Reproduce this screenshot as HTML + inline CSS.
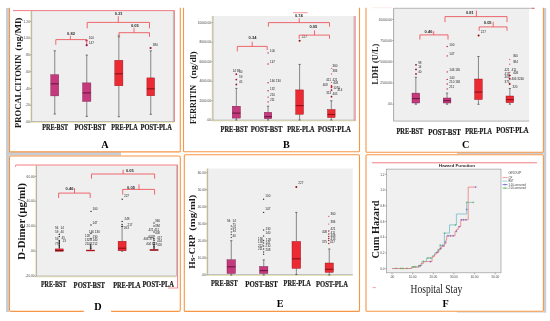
<!DOCTYPE html>
<html><head><meta charset="utf-8"><style>
html,body{margin:0;padding:0;background:#fff;}
body{width:550px;height:321px;overflow:hidden;font-family:"Liberation Sans",sans-serif;}
svg{display:block;will-change:transform;}
</style></head><body>
<svg width="550" height="321" viewBox="0 0 550 321">
<rect x="6.00" y="8.00" width="3.20" height="304.00" fill="#c9ced6" stroke="none" stroke-width="0" rx="0" />
<rect x="6.00" y="151.80" width="115.00" height="3.80" fill="#c9ced6" stroke="none" stroke-width="0" rx="0" />
<rect x="543.90" y="8.00" width="2.30" height="304.40" fill="#c9ced6" stroke="none" stroke-width="0" rx="0" />
<rect x="457.00" y="152.30" width="89.20" height="1.80" fill="#c9ced6" stroke="none" stroke-width="0" rx="0" />
<rect x="457.00" y="311.70" width="89.20" height="0.80" fill="#c9ced6" stroke="none" stroke-width="0" rx="0" />
<path d="M9.50,7.80 L9.50,150.90 Q9.50,151.90 10.50,151.90 L179.30,151.90 Q180.30,151.90 180.30,150.90 L180.30,7.80" stroke="#f79646" stroke-width="1.1" fill="none" />
<rect x="31.30" y="10.60" width="142.90" height="111.20" fill="#efefef" stroke="none" stroke-width="0" rx="0" />
<line x1="13.00" y1="10.60" x2="174.60" y2="10.60" stroke="#f07c80" stroke-width="1.0" />
<line x1="173.40" y1="11.00" x2="173.40" y2="121.80" stroke="#8a9090" stroke-width="0.5" />
<line x1="174.40" y1="10.60" x2="174.40" y2="122.00" stroke="#f07c80" stroke-width="1.0" />
<line x1="30.85" y1="10.80" x2="30.85" y2="122.70" stroke="#e6dc98" stroke-width="0.8" />
<line x1="31.65" y1="10.80" x2="31.65" y2="121.80" stroke="#8a8a8a" stroke-width="0.6" />
<line x1="31.30" y1="122.30" x2="174.20" y2="122.30" stroke="#e6dc98" stroke-width="0.8" />
<line x1="31.65" y1="121.50" x2="174.20" y2="121.50" stroke="#9a9a9a" stroke-width="0.6" />
<line x1="29.90" y1="21.40" x2="31.30" y2="21.40" stroke="#666" stroke-width="0.5" />
<text x="29.70" y="22.50" font-family="Liberation Sans" font-size="3.2" font-weight="normal" text-anchor="end" fill="#444" >1.20</text>
<line x1="29.90" y1="38.20" x2="31.30" y2="38.20" stroke="#666" stroke-width="0.5" />
<text x="29.70" y="39.30" font-family="Liberation Sans" font-size="3.2" font-weight="normal" text-anchor="end" fill="#444" >1.00</text>
<line x1="29.90" y1="54.90" x2="31.30" y2="54.90" stroke="#666" stroke-width="0.5" />
<text x="29.70" y="56.00" font-family="Liberation Sans" font-size="3.2" font-weight="normal" text-anchor="end" fill="#444" >.80</text>
<line x1="29.90" y1="71.70" x2="31.30" y2="71.70" stroke="#666" stroke-width="0.5" />
<text x="29.70" y="72.80" font-family="Liberation Sans" font-size="3.2" font-weight="normal" text-anchor="end" fill="#444" >.60</text>
<line x1="29.90" y1="88.50" x2="31.30" y2="88.50" stroke="#666" stroke-width="0.5" />
<text x="29.70" y="89.60" font-family="Liberation Sans" font-size="3.2" font-weight="normal" text-anchor="end" fill="#444" >.40</text>
<line x1="29.90" y1="105.20" x2="31.30" y2="105.20" stroke="#666" stroke-width="0.5" />
<text x="29.70" y="106.30" font-family="Liberation Sans" font-size="3.2" font-weight="normal" text-anchor="end" fill="#444" >.20</text>
<line x1="29.90" y1="122.00" x2="31.30" y2="122.00" stroke="#666" stroke-width="0.5" />
<text x="29.70" y="123.10" font-family="Liberation Sans" font-size="3.2" font-weight="normal" text-anchor="end" fill="#444" >.00</text>
<line x1="54.75" y1="50.80" x2="54.75" y2="74.70" stroke="#7a7a7a" stroke-width="0.9" />
<line x1="54.75" y1="95.90" x2="54.75" y2="114.00" stroke="#7a7a7a" stroke-width="0.9" />
<line x1="53.65" y1="50.80" x2="55.85" y2="50.80" stroke="#555" stroke-width="0.8" />
<line x1="53.65" y1="114.00" x2="55.85" y2="114.00" stroke="#555" stroke-width="0.8" />
<rect x="50.80" y="74.70" width="7.90" height="21.20" fill="#c53a7d" stroke="#6e1540" stroke-width="0.4" rx="0" />
<line x1="50.80" y1="83.80" x2="58.70" y2="83.80" stroke="#6e1540" stroke-width="1.1" />
<line x1="86.75" y1="55.10" x2="86.75" y2="82.90" stroke="#7a7a7a" stroke-width="0.9" />
<line x1="86.75" y1="101.40" x2="86.75" y2="116.40" stroke="#7a7a7a" stroke-width="0.9" />
<line x1="85.65" y1="55.10" x2="87.85" y2="55.10" stroke="#555" stroke-width="0.8" />
<line x1="85.65" y1="116.40" x2="87.85" y2="116.40" stroke="#555" stroke-width="0.8" />
<rect x="82.60" y="82.90" width="8.30" height="18.50" fill="#c53a7d" stroke="#6e1540" stroke-width="0.4" rx="0" />
<line x1="82.60" y1="92.90" x2="90.90" y2="92.90" stroke="#6e1540" stroke-width="1.1" />
<line x1="118.85" y1="36.80" x2="118.85" y2="60.30" stroke="#7a7a7a" stroke-width="0.9" />
<line x1="118.85" y1="85.80" x2="118.85" y2="116.70" stroke="#7a7a7a" stroke-width="0.9" />
<line x1="117.75" y1="36.80" x2="119.95" y2="36.80" stroke="#555" stroke-width="0.8" />
<line x1="117.75" y1="116.70" x2="119.95" y2="116.70" stroke="#555" stroke-width="0.8" />
<rect x="114.80" y="60.30" width="8.10" height="25.50" fill="#ec2a34" stroke="#8c1018" stroke-width="0.4" rx="0" />
<line x1="114.80" y1="73.80" x2="122.90" y2="73.80" stroke="#8c1018" stroke-width="1.1" />
<line x1="150.75" y1="50.80" x2="150.75" y2="77.90" stroke="#7a7a7a" stroke-width="0.9" />
<line x1="150.75" y1="95.80" x2="150.75" y2="114.30" stroke="#7a7a7a" stroke-width="0.9" />
<line x1="149.65" y1="50.80" x2="151.85" y2="50.80" stroke="#555" stroke-width="0.8" />
<line x1="149.65" y1="114.30" x2="151.85" y2="114.30" stroke="#555" stroke-width="0.8" />
<rect x="146.90" y="77.90" width="7.70" height="17.90" fill="#ec2a34" stroke="#8c1018" stroke-width="0.4" rx="0" />
<line x1="146.90" y1="88.80" x2="154.60" y2="88.80" stroke="#8c1018" stroke-width="1.1" />
<circle cx="86.50" cy="40.50" r="1.1" fill="#9a1050"/>
<text x="88.80" y="38.50" font-family="Liberation Sans" font-size="3.0" font-weight="normal" text-anchor="start" fill="#222" >100</text>
<circle cx="86.70" cy="45.20" r="1.1" fill="#9a1050"/>
<text x="88.80" y="43.50" font-family="Liberation Sans" font-size="3.0" font-weight="normal" text-anchor="start" fill="#222" >147</text>
<circle cx="150.60" cy="48.00" r="1.1" fill="#9a1020"/>
<text x="152.80" y="45.50" font-family="Liberation Sans" font-size="3.0" font-weight="normal" text-anchor="start" fill="#222" >380</text>
<circle cx="118.9" cy="35.6" r="0.9" fill="none" stroke="#555" stroke-width="0.4"/>
<path d="M55.80,44.80 L55.80,39.60 L86.70,39.60 L86.70,44.00" stroke="#f04f55" stroke-width="0.85" fill="none" />
<line x1="70.40" y1="39.60" x2="70.40" y2="35.80" stroke="#f04f55" stroke-width="0.85" />
<text x="71.00" y="34.60" font-family="Liberation Sans" font-size="4.0" font-weight="bold" text-anchor="middle" fill="#2a2a2a" >0.82</text>
<path d="M87.20,28.40 L87.20,22.40 L149.50,22.40 L149.50,28.40" stroke="#f04f55" stroke-width="0.85" fill="none" />
<line x1="118.30" y1="22.40" x2="118.30" y2="16.20" stroke="#f04f55" stroke-width="0.85" />
<text x="118.70" y="14.80" font-family="Liberation Sans" font-size="4.0" font-weight="bold" text-anchor="middle" fill="#2a2a2a" >0.21</text>
<path d="M119.00,36.60 L119.00,32.70 L149.50,32.70 L149.50,36.80" stroke="#f04f55" stroke-width="0.85" fill="none" />
<line x1="134.00" y1="32.70" x2="134.00" y2="27.80" stroke="#f04f55" stroke-width="0.85" />
<text x="134.80" y="26.60" font-family="Liberation Sans" font-size="4.0" font-weight="bold" text-anchor="middle" fill="#2a2a2a" >0.05</text>
<text x="21.50" y="127.90" font-family="Liberation Serif" font-size="7.5" font-weight="bold" text-anchor="start" fill="#1a1a1a" textLength="73.40" lengthAdjust="spacingAndGlyphs" transform="rotate(-90 21.50 127.90)" >PROCALCITONIN</text>
<text x="21.50" y="50.70" font-family="Liberation Serif" font-size="7.5" font-weight="bold" text-anchor="start" fill="#1a1a1a" textLength="33.20" lengthAdjust="spacingAndGlyphs" transform="rotate(-90 21.50 50.70)" >(ng/Ml)</text>
<text x="55.25" y="130.20" font-family="Liberation Serif" font-size="7.6" font-weight="bold" text-anchor="middle" fill="#1a1a1a" textLength="25.90" lengthAdjust="spacingAndGlyphs" stroke="#1a1a1a" stroke-width="0.22">PRE-BST</text>
<text x="90.15" y="130.20" font-family="Liberation Serif" font-size="7.6" font-weight="bold" text-anchor="middle" fill="#1a1a1a" textLength="31.30" lengthAdjust="spacingAndGlyphs" stroke="#1a1a1a" stroke-width="0.22">POST-BST</text>
<text x="124.50" y="130.20" font-family="Liberation Serif" font-size="7.6" font-weight="bold" text-anchor="middle" fill="#1a1a1a" textLength="26.40" lengthAdjust="spacingAndGlyphs" stroke="#1a1a1a" stroke-width="0.22">PRE-PLA</text>
<text x="156.15" y="130.20" font-family="Liberation Serif" font-size="7.6" font-weight="bold" text-anchor="middle" fill="#1a1a1a" textLength="31.30" lengthAdjust="spacingAndGlyphs" stroke="#1a1a1a" stroke-width="0.22">POST-PLA</text>
<text x="104.95" y="147.80" font-family="Liberation Serif" font-size="10.2" font-weight="bold" text-anchor="middle" fill="#000" >A</text>
<path d="M183.50,7.80 L183.50,150.80 Q183.50,151.80 184.50,151.80 L358.50,151.80 Q359.50,151.80 359.50,150.80 L359.50,7.80" stroke="#f79646" stroke-width="1.1" fill="none" />
<rect x="212.60" y="15.90" width="142.40" height="104.50" fill="#efefef" stroke="none" stroke-width="0" rx="0" />
<line x1="354.00" y1="16.00" x2="354.00" y2="120.40" stroke="#8a9090" stroke-width="0.5" />
<line x1="355.10" y1="16.00" x2="355.10" y2="121.00" stroke="#f07c80" stroke-width="1.1" />
<line x1="293.00" y1="12.70" x2="307.60" y2="12.70" stroke="#f07c80" stroke-width="0.8" />
<line x1="212.15" y1="16.00" x2="212.15" y2="121.30" stroke="#e6dc98" stroke-width="0.8" />
<line x1="212.95" y1="16.00" x2="212.95" y2="120.40" stroke="#8a8a8a" stroke-width="0.6" />
<line x1="212.60" y1="120.90" x2="355.00" y2="120.90" stroke="#e6dc98" stroke-width="0.8" />
<line x1="212.95" y1="120.10" x2="355.00" y2="120.10" stroke="#9a9a9a" stroke-width="0.6" />
<line x1="211.20" y1="22.70" x2="212.60" y2="22.70" stroke="#666" stroke-width="0.5" />
<text x="211.00" y="23.80" font-family="Liberation Sans" font-size="3.2" font-weight="normal" text-anchor="end" fill="#444" >10000.00</text>
<line x1="211.20" y1="42.20" x2="212.60" y2="42.20" stroke="#666" stroke-width="0.5" />
<text x="211.00" y="43.30" font-family="Liberation Sans" font-size="3.2" font-weight="normal" text-anchor="end" fill="#444" >8000.00</text>
<line x1="211.20" y1="61.70" x2="212.60" y2="61.70" stroke="#666" stroke-width="0.5" />
<text x="211.00" y="62.80" font-family="Liberation Sans" font-size="3.2" font-weight="normal" text-anchor="end" fill="#444" >6000.00</text>
<line x1="211.20" y1="81.20" x2="212.60" y2="81.20" stroke="#666" stroke-width="0.5" />
<text x="211.00" y="82.30" font-family="Liberation Sans" font-size="3.2" font-weight="normal" text-anchor="end" fill="#444" >4000.00</text>
<line x1="211.20" y1="100.70" x2="212.60" y2="100.70" stroke="#666" stroke-width="0.5" />
<text x="211.00" y="101.80" font-family="Liberation Sans" font-size="3.2" font-weight="normal" text-anchor="end" fill="#444" >2000.00</text>
<line x1="211.20" y1="120.20" x2="212.60" y2="120.20" stroke="#666" stroke-width="0.5" />
<text x="211.00" y="121.30" font-family="Liberation Sans" font-size="3.2" font-weight="normal" text-anchor="end" fill="#444" >.00</text>
<line x1="236.35" y1="88.40" x2="236.35" y2="106.20" stroke="#7a7a7a" stroke-width="0.9" />
<line x1="236.35" y1="118.10" x2="236.35" y2="120.00" stroke="#7a7a7a" stroke-width="0.9" />
<line x1="235.25" y1="88.40" x2="237.45" y2="88.40" stroke="#555" stroke-width="0.8" />
<line x1="235.25" y1="120.00" x2="237.45" y2="120.00" stroke="#555" stroke-width="0.8" />
<rect x="232.30" y="106.20" width="8.10" height="11.90" fill="#c53a7d" stroke="#6e1540" stroke-width="0.4" rx="0" />
<line x1="232.30" y1="113.10" x2="240.40" y2="113.10" stroke="#6e1540" stroke-width="1.1" />
<line x1="268.05" y1="106.20" x2="268.05" y2="112.30" stroke="#7a7a7a" stroke-width="0.9" />
<line x1="268.05" y1="118.70" x2="268.05" y2="120.00" stroke="#7a7a7a" stroke-width="0.9" />
<line x1="266.95" y1="106.20" x2="269.15" y2="106.20" stroke="#555" stroke-width="0.8" />
<line x1="266.95" y1="120.00" x2="269.15" y2="120.00" stroke="#555" stroke-width="0.8" />
<rect x="264.30" y="112.30" width="7.50" height="6.40" fill="#c53a7d" stroke="#6e1540" stroke-width="0.4" rx="0" />
<line x1="264.30" y1="116.70" x2="271.80" y2="116.70" stroke="#6e1540" stroke-width="1.1" />
<line x1="299.60" y1="64.40" x2="299.60" y2="89.90" stroke="#7a7a7a" stroke-width="0.9" />
<line x1="299.60" y1="114.30" x2="299.60" y2="120.00" stroke="#7a7a7a" stroke-width="0.9" />
<line x1="298.50" y1="64.40" x2="300.70" y2="64.40" stroke="#555" stroke-width="0.8" />
<line x1="298.50" y1="120.00" x2="300.70" y2="120.00" stroke="#555" stroke-width="0.8" />
<rect x="295.70" y="89.90" width="7.80" height="24.40" fill="#ec2a34" stroke="#8c1018" stroke-width="0.4" rx="0" />
<line x1="295.70" y1="105.60" x2="303.50" y2="105.60" stroke="#8c1018" stroke-width="1.1" />
<line x1="331.30" y1="100.80" x2="331.30" y2="109.50" stroke="#7a7a7a" stroke-width="0.9" />
<line x1="331.30" y1="117.60" x2="331.30" y2="120.00" stroke="#7a7a7a" stroke-width="0.9" />
<line x1="330.20" y1="100.80" x2="332.40" y2="100.80" stroke="#555" stroke-width="0.8" />
<line x1="330.20" y1="120.00" x2="332.40" y2="120.00" stroke="#555" stroke-width="0.8" />
<rect x="327.50" y="109.50" width="7.60" height="8.10" fill="#ec2a34" stroke="#8c1018" stroke-width="0.4" rx="0" />
<line x1="327.50" y1="114.50" x2="335.10" y2="114.50" stroke="#8c1018" stroke-width="1.1" />
<circle cx="236.30" cy="74.20" r="0.9" fill="#9a1050"/>
<text x="239.00" y="73.00" font-family="Liberation Sans" font-size="3.0" font-weight="normal" text-anchor="start" fill="#222" >40</text>
<circle cx="236.30" cy="79.60" r="0.9" fill="#9a1050"/>
<text x="239.00" y="78.40" font-family="Liberation Sans" font-size="3.0" font-weight="normal" text-anchor="start" fill="#222" >59</text>
<circle cx="236.30" cy="84.50" r="0.9" fill="#9a1050"/>
<text x="239.00" y="83.30" font-family="Liberation Sans" font-size="3.0" font-weight="normal" text-anchor="start" fill="#222" >45</text>
<text x="232.70" y="72.00" font-family="Liberation Sans" font-size="3.0" font-weight="normal" text-anchor="start" fill="#222" >14  98</text>
<circle cx="268.10" cy="52.90" r="0.7" fill="#b01860"/>
<text x="270.00" y="52.10" font-family="Liberation Sans" font-size="3.0" font-weight="normal" text-anchor="start" fill="#222" >100</text>
<circle cx="268.10" cy="64.00" r="0.7" fill="#b01860"/>
<text x="270.00" y="63.20" font-family="Liberation Sans" font-size="3.0" font-weight="normal" text-anchor="start" fill="#222" >147</text>
<circle cx="268.10" cy="82.70" r="0.7" fill="#b01860"/>
<text x="270.00" y="81.90" font-family="Liberation Sans" font-size="3.0" font-weight="normal" text-anchor="start" fill="#222" >146 130</text>
<circle cx="268.10" cy="90.80" r="0.7" fill="#b01860"/>
<text x="270.00" y="90.00" font-family="Liberation Sans" font-size="3.0" font-weight="normal" text-anchor="start" fill="#222" >132</text>
<circle cx="268.10" cy="97.10" r="0.7" fill="#b01860"/>
<text x="270.00" y="96.30" font-family="Liberation Sans" font-size="3.0" font-weight="normal" text-anchor="start" fill="#222" >210</text>
<circle cx="268.10" cy="101.90" r="0.7" fill="#b01860"/>
<text x="270.00" y="101.10" font-family="Liberation Sans" font-size="3.0" font-weight="normal" text-anchor="start" fill="#222" >211</text>
<circle cx="299.60" cy="40.70" r="1.0" fill="#8a0a10"/>
<text x="301.80" y="38.20" font-family="Liberation Sans" font-size="3.0" font-weight="normal" text-anchor="start" fill="#222" >227</text>
<circle cx="331.50" cy="68.40" r="0.7" fill="#f06070"/>
<circle cx="331.50" cy="74.00" r="0.7" fill="#f06070"/>
<circle cx="331.50" cy="82.40" r="0.7" fill="#f06070"/>
<circle cx="331.50" cy="86.00" r="0.9" fill="#c01828"/>
<circle cx="331.50" cy="87.30" r="0.9" fill="#c01828"/>
<circle cx="331.50" cy="90.10" r="0.9" fill="#a01020"/>
<circle cx="331.50" cy="96.70" r="0.9" fill="#a01020"/>
<text x="332.50" y="66.80" font-family="Liberation Sans" font-size="3.0" font-weight="normal" text-anchor="start" fill="#222" >360</text>
<text x="332.50" y="72.40" font-family="Liberation Sans" font-size="3.0" font-weight="normal" text-anchor="start" fill="#222" >384</text>
<text x="326.20" y="81.40" font-family="Liberation Sans" font-size="3.0" font-weight="normal" text-anchor="start" fill="#222" >411</text>
<text x="332.50" y="81.40" font-family="Liberation Sans" font-size="3.0" font-weight="normal" text-anchor="start" fill="#222" >421</text>
<text x="322.70" y="86.30" font-family="Liberation Sans" font-size="3.0" font-weight="normal" text-anchor="start" fill="#222" >408</text>
<text x="333.20" y="84.40" font-family="Liberation Sans" font-size="3.0" font-weight="normal" text-anchor="start" fill="#222" >408</text>
<text x="333.20" y="88.50" font-family="Liberation Sans" font-size="3.0" font-weight="normal" text-anchor="start" fill="#222" >1070</text>
<text x="337.40" y="91.20" font-family="Liberation Sans" font-size="3.0" font-weight="normal" text-anchor="start" fill="#222" >414</text>
<text x="326.20" y="93.70" font-family="Liberation Sans" font-size="3.0" font-weight="normal" text-anchor="start" fill="#222" >313</text>
<text x="332.50" y="94.70" font-family="Liberation Sans" font-size="3.0" font-weight="normal" text-anchor="start" fill="#222" >405</text>
<path d="M237.30,51.40 L237.30,46.40 L267.20,46.40 L267.20,50.00" stroke="#f04f55" stroke-width="0.85" fill="none" />
<line x1="252.20" y1="46.40" x2="252.20" y2="41.70" stroke="#f04f55" stroke-width="0.85" />
<text x="252.50" y="39.30" font-family="Liberation Sans" font-size="4.0" font-weight="bold" text-anchor="middle" fill="#2a2a2a" >0.34</text>
<path d="M268.40,26.70 L268.40,22.60 L329.50,22.60 L329.50,26.70" stroke="#f04f55" stroke-width="0.85" fill="none" />
<line x1="299.20" y1="22.60" x2="299.20" y2="18.30" stroke="#f04f55" stroke-width="0.85" />
<text x="298.90" y="17.10" font-family="Liberation Sans" font-size="4.0" font-weight="bold" text-anchor="middle" fill="#2a2a2a" >0.74</text>
<path d="M299.20,38.80 L299.20,35.10 L329.50,35.10 L329.50,38.80" stroke="#f04f55" stroke-width="0.85" fill="none" />
<line x1="314.50" y1="35.10" x2="314.50" y2="30.40" stroke="#f04f55" stroke-width="0.85" />
<text x="313.40" y="27.70" font-family="Liberation Sans" font-size="4.0" font-weight="bold" text-anchor="middle" fill="#2a2a2a" >0.05</text>
<text x="196.10" y="123.90" font-family="Liberation Serif" font-size="7.6" font-weight="bold" text-anchor="start" fill="#1a1a1a" textLength="38.90" lengthAdjust="spacingAndGlyphs" transform="rotate(-90 196.10 123.90)" >FERRITIN</text>
<text x="196.10" y="78.70" font-family="Liberation Serif" font-size="7.6" font-weight="bold" text-anchor="start" fill="#1a1a1a" textLength="27.40" lengthAdjust="spacingAndGlyphs" transform="rotate(-90 196.10 78.70)" >(ng/dl)</text>
<text x="234.15" y="132.00" font-family="Liberation Serif" font-size="7.6" font-weight="bold" text-anchor="middle" fill="#1a1a1a" textLength="27.30" lengthAdjust="spacingAndGlyphs" stroke="#1a1a1a" stroke-width="0.22">PRE-BST</text>
<text x="266.60" y="132.00" font-family="Liberation Serif" font-size="7.6" font-weight="bold" text-anchor="middle" fill="#1a1a1a" textLength="31.80" lengthAdjust="spacingAndGlyphs" stroke="#1a1a1a" stroke-width="0.22">POST-BST</text>
<text x="300.85" y="131.50" font-family="Liberation Serif" font-size="7.6" font-weight="bold" text-anchor="middle" fill="#1a1a1a" textLength="27.10" lengthAdjust="spacingAndGlyphs" stroke="#1a1a1a" stroke-width="0.22">PRE-PLA</text>
<text x="334.35" y="131.50" font-family="Liberation Serif" font-size="7.6" font-weight="bold" text-anchor="middle" fill="#1a1a1a" textLength="33.30" lengthAdjust="spacingAndGlyphs" stroke="#1a1a1a" stroke-width="0.22">POST-PLA</text>
<text x="286.50" y="148.20" font-family="Liberation Serif" font-size="10.2" font-weight="bold" text-anchor="middle" fill="#000" >B</text>
<path d="M366.00,7.80 L366.00,151.20 Q366.00,152.20 367.00,152.20 L542.40,152.20 Q543.40,152.20 543.40,151.20 L543.40,7.80" stroke="#f79646" stroke-width="1.1" fill="none" />
<rect x="393.50" y="8.40" width="135.60" height="112.70" fill="#efefef" stroke="none" stroke-width="0" rx="0" />
<line x1="393.50" y1="8.30" x2="534.30" y2="8.30" stroke="#999" stroke-width="0.7" />
<line x1="532.00" y1="8.30" x2="534.60" y2="8.30" stroke="#f06060" stroke-width="0.9" />
<line x1="372.00" y1="7.70" x2="392.00" y2="7.70" stroke="#fde0d8" stroke-width="0.6" />
<line x1="393.60" y1="8.40" x2="393.60" y2="121.10" stroke="#8a8a8a" stroke-width="0.7" />
<line x1="393.50" y1="121.10" x2="529.10" y2="121.10" stroke="#9a9a9a" stroke-width="0.7" />
<line x1="392.10" y1="19.40" x2="393.50" y2="19.40" stroke="#666" stroke-width="0.5" />
<text x="391.90" y="20.50" font-family="Liberation Sans" font-size="3.2" font-weight="normal" text-anchor="end" fill="#444" >10000.00</text>
<line x1="392.10" y1="40.60" x2="393.50" y2="40.60" stroke="#666" stroke-width="0.5" />
<text x="391.90" y="41.70" font-family="Liberation Sans" font-size="3.2" font-weight="normal" text-anchor="end" fill="#444" >7500.00</text>
<line x1="392.10" y1="61.80" x2="393.50" y2="61.80" stroke="#666" stroke-width="0.5" />
<text x="391.90" y="62.90" font-family="Liberation Sans" font-size="3.2" font-weight="normal" text-anchor="end" fill="#444" >5000.00</text>
<line x1="392.10" y1="83.00" x2="393.50" y2="83.00" stroke="#666" stroke-width="0.5" />
<text x="391.90" y="84.10" font-family="Liberation Sans" font-size="3.2" font-weight="normal" text-anchor="end" fill="#444" >2500.00</text>
<line x1="392.10" y1="104.20" x2="393.50" y2="104.20" stroke="#666" stroke-width="0.5" />
<text x="391.90" y="105.30" font-family="Liberation Sans" font-size="3.2" font-weight="normal" text-anchor="end" fill="#444" >.00</text>
<line x1="415.85" y1="77.30" x2="415.85" y2="93.10" stroke="#7a7a7a" stroke-width="0.9" />
<line x1="415.85" y1="103.00" x2="415.85" y2="104.20" stroke="#7a7a7a" stroke-width="0.9" />
<line x1="414.75" y1="77.30" x2="416.95" y2="77.30" stroke="#555" stroke-width="0.8" />
<line x1="414.75" y1="104.20" x2="416.95" y2="104.20" stroke="#555" stroke-width="0.8" />
<rect x="412.00" y="93.10" width="7.70" height="9.90" fill="#c53a7d" stroke="#6e1540" stroke-width="0.4" rx="0" />
<line x1="412.00" y1="98.60" x2="419.70" y2="98.60" stroke="#6e1540" stroke-width="1.1" />
<line x1="447.05" y1="93.10" x2="447.05" y2="98.00" stroke="#7a7a7a" stroke-width="0.9" />
<line x1="447.05" y1="103.00" x2="447.05" y2="104.20" stroke="#7a7a7a" stroke-width="0.9" />
<line x1="445.95" y1="93.10" x2="448.15" y2="93.10" stroke="#555" stroke-width="0.8" />
<line x1="445.95" y1="104.20" x2="448.15" y2="104.20" stroke="#555" stroke-width="0.8" />
<rect x="443.20" y="98.00" width="7.70" height="5.00" fill="#c53a7d" stroke="#6e1540" stroke-width="0.4" rx="0" />
<line x1="443.20" y1="100.60" x2="450.90" y2="100.60" stroke="#6e1540" stroke-width="1.1" />
<line x1="478.45" y1="56.50" x2="478.45" y2="79.00" stroke="#7a7a7a" stroke-width="0.9" />
<line x1="478.45" y1="99.60" x2="478.45" y2="104.30" stroke="#7a7a7a" stroke-width="0.9" />
<line x1="477.35" y1="56.50" x2="479.55" y2="56.50" stroke="#555" stroke-width="0.8" />
<line x1="477.35" y1="104.30" x2="479.55" y2="104.30" stroke="#555" stroke-width="0.8" />
<rect x="474.60" y="79.00" width="7.70" height="20.60" fill="#ec2a34" stroke="#8c1018" stroke-width="0.4" rx="0" />
<line x1="474.60" y1="92.10" x2="482.30" y2="92.10" stroke="#8c1018" stroke-width="1.1" />
<line x1="509.85" y1="88.50" x2="509.85" y2="96.00" stroke="#7a7a7a" stroke-width="0.9" />
<line x1="509.85" y1="102.70" x2="509.85" y2="104.20" stroke="#7a7a7a" stroke-width="0.9" />
<line x1="508.75" y1="88.50" x2="510.95" y2="88.50" stroke="#555" stroke-width="0.8" />
<line x1="508.75" y1="104.20" x2="510.95" y2="104.20" stroke="#555" stroke-width="0.8" />
<rect x="506.00" y="96.00" width="7.70" height="6.70" fill="#ec2a34" stroke="#8c1018" stroke-width="0.4" rx="0" />
<line x1="506.00" y1="99.60" x2="513.70" y2="99.60" stroke="#8c1018" stroke-width="1.1" />
<circle cx="416.00" cy="64.80" r="0.9" fill="#8a1040"/>
<text x="418.20" y="63.80" font-family="Liberation Sans" font-size="3.0" font-weight="normal" text-anchor="start" fill="#222" >98</text>
<circle cx="416.00" cy="69.40" r="0.9" fill="#8a1040"/>
<text x="418.20" y="68.40" font-family="Liberation Sans" font-size="3.0" font-weight="normal" text-anchor="start" fill="#222" >14</text>
<circle cx="416.00" cy="73.90" r="0.9" fill="#8a1040"/>
<text x="418.20" y="72.90" font-family="Liberation Sans" font-size="3.0" font-weight="normal" text-anchor="start" fill="#222" >40</text>
<circle cx="447.20" cy="46.50" r="0.7" fill="#b01860"/>
<text x="449.30" y="45.70" font-family="Liberation Sans" font-size="3.0" font-weight="normal" text-anchor="start" fill="#222" >100</text>
<circle cx="447.20" cy="55.90" r="0.7" fill="#b01860"/>
<text x="449.30" y="55.10" font-family="Liberation Sans" font-size="3.0" font-weight="normal" text-anchor="start" fill="#222" >147</text>
<circle cx="447.20" cy="71.90" r="0.7" fill="#b01860"/>
<text x="449.30" y="71.10" font-family="Liberation Sans" font-size="3.0" font-weight="normal" text-anchor="start" fill="#222" >146 130</text>
<circle cx="447.20" cy="79.40" r="0.7" fill="#b01860"/>
<text x="449.30" y="78.60" font-family="Liberation Sans" font-size="3.0" font-weight="normal" text-anchor="start" fill="#222" >140</text>
<circle cx="447.20" cy="84.00" r="0.7" fill="#b01860"/>
<text x="449.30" y="83.20" font-family="Liberation Sans" font-size="3.0" font-weight="normal" text-anchor="start" fill="#222" >210 136</text>
<circle cx="447.20" cy="88.90" r="0.7" fill="#b01860"/>
<text x="449.30" y="88.10" font-family="Liberation Sans" font-size="3.0" font-weight="normal" text-anchor="start" fill="#222" >211</text>
<circle cx="478.60" cy="35.50" r="1.0" fill="#8a0a10"/>
<text x="480.80" y="33.00" font-family="Liberation Sans" font-size="3.0" font-weight="normal" text-anchor="start" fill="#222" >227</text>
<circle cx="509.70" cy="59.50" r="0.7" fill="#f06070"/>
<circle cx="509.70" cy="64.30" r="0.7" fill="#f06070"/>
<circle cx="509.70" cy="72.40" r="0.7" fill="#f06070"/>
<circle cx="509.70" cy="75.60" r="1.0" fill="#a01020"/>
<circle cx="509.70" cy="78.70" r="1.0" fill="#a01020"/>
<circle cx="509.70" cy="84.00" r="1.0" fill="#a01020"/>
<text x="512.90" y="57.40" font-family="Liberation Sans" font-size="3.0" font-weight="normal" text-anchor="start" fill="#222" >360</text>
<text x="512.90" y="63.00" font-family="Liberation Sans" font-size="3.0" font-weight="normal" text-anchor="start" fill="#222" >384</text>
<text x="504.50" y="70.70" font-family="Liberation Sans" font-size="3.0" font-weight="normal" text-anchor="start" fill="#222" >421</text>
<text x="511.50" y="70.70" font-family="Liberation Sans" font-size="3.0" font-weight="normal" text-anchor="start" fill="#222" >411</text>
<text x="513.20" y="73.50" font-family="Liberation Sans" font-size="3.0" font-weight="normal" text-anchor="start" fill="#222" >408</text>
<text x="504.50" y="74.90" font-family="Liberation Sans" font-size="3.0" font-weight="normal" text-anchor="start" fill="#222" >413</text>
<text x="504.50" y="78.40" font-family="Liberation Sans" font-size="3.0" font-weight="normal" text-anchor="start" fill="#222" >405</text>
<text x="511.50" y="79.80" font-family="Liberation Sans" font-size="3.0" font-weight="normal" text-anchor="start" fill="#222" >406 3240</text>
<text x="504.50" y="82.60" font-family="Liberation Sans" font-size="3.0" font-weight="normal" text-anchor="start" fill="#222" >375</text>
<text x="512.50" y="88.20" font-family="Liberation Sans" font-size="3.0" font-weight="normal" text-anchor="start" fill="#222" >320</text>
<path d="M419.90,39.60 L419.90,34.90 L448.00,34.90 L448.00,39.60" stroke="#f04f55" stroke-width="0.85" fill="none" />
<line x1="433.70" y1="34.90" x2="433.70" y2="31.20" stroke="#f04f55" stroke-width="0.85" />
<text x="428.50" y="33.20" font-family="Liberation Sans" font-size="4.0" font-weight="bold" text-anchor="middle" fill="#2a2a2a" >0.46</text>
<path d="M445.00,22.20 L445.00,16.60 L507.00,16.60 L507.00,22.20" stroke="#f04f55" stroke-width="0.85" fill="none" />
<line x1="476.40" y1="16.60" x2="476.40" y2="10.60" stroke="#f04f55" stroke-width="0.85" />
<text x="469.90" y="14.40" font-family="Liberation Sans" font-size="4.0" font-weight="bold" text-anchor="middle" fill="#2a2a2a" >0.81</text>
<path d="M479.20,30.80 L479.20,26.90 L507.00,26.90 L507.00,30.80" stroke="#f04f55" stroke-width="0.85" fill="none" />
<line x1="493.20" y1="26.90" x2="493.20" y2="21.80" stroke="#f04f55" stroke-width="0.85" />
<text x="487.70" y="23.80" font-family="Liberation Sans" font-size="4.0" font-weight="bold" text-anchor="middle" fill="#2a2a2a" >0.05</text>
<text x="377.80" y="84.70" font-family="Liberation Serif" font-size="7.5" font-weight="bold" text-anchor="start" fill="#1a1a1a" textLength="19.00" lengthAdjust="spacingAndGlyphs" transform="rotate(-90 377.80 84.70)" >LDH</text>
<text x="377.80" y="62.90" font-family="Liberation Serif" font-size="7.5" font-weight="bold" text-anchor="start" fill="#1a1a1a" textLength="19.00" lengthAdjust="spacingAndGlyphs" transform="rotate(-90 377.80 62.90)" >(U/L)</text>
<text x="409.85" y="134.20" font-family="Liberation Serif" font-size="7.6" font-weight="bold" text-anchor="middle" fill="#1a1a1a" textLength="26.90" lengthAdjust="spacingAndGlyphs" stroke="#1a1a1a" stroke-width="0.22">PRE-BST</text>
<text x="444.55" y="134.80" font-family="Liberation Serif" font-size="7.6" font-weight="bold" text-anchor="middle" fill="#1a1a1a" textLength="32.70" lengthAdjust="spacingAndGlyphs" stroke="#1a1a1a" stroke-width="0.22">POST-BST</text>
<text x="478.60" y="133.50" font-family="Liberation Serif" font-size="7.6" font-weight="bold" text-anchor="middle" fill="#1a1a1a" textLength="26.80" lengthAdjust="spacingAndGlyphs" stroke="#1a1a1a" stroke-width="0.22">PRE-PLA</text>
<text x="512.40" y="132.60" font-family="Liberation Serif" font-size="7.6" font-weight="bold" text-anchor="middle" fill="#1a1a1a" textLength="32.40" lengthAdjust="spacingAndGlyphs" stroke="#1a1a1a" stroke-width="0.22">POST-PLA</text>
<text x="465.80" y="148.30" font-family="Liberation Serif" font-size="10.2" font-weight="bold" text-anchor="middle" fill="#000" >C</text>
<path d="M83.8,311.4 L11,311.4 Q9.5,311.4 9.5,309.9 L9.5,157.5 Q9.5,156 11,156 L178.8,156 Q180.3,156 180.3,157.5 L180.3,309.9 Q180.3,311.4 178.8,311.4 L111.1,311.4" stroke="#f79646" stroke-width="1.1" fill="none" />
<rect x="36.20" y="165.20" width="140.10" height="111.10" fill="#efefef" stroke="none" stroke-width="0" rx="0" />
<line x1="15.60" y1="165.00" x2="177.80" y2="165.00" stroke="#f07c80" stroke-width="1.0" />
<line x1="15.60" y1="165.00" x2="15.60" y2="167.00" stroke="#f07c80" stroke-width="0.8" />
<line x1="176.50" y1="165.40" x2="176.50" y2="276.30" stroke="#8a9090" stroke-width="0.5" />
<line x1="177.60" y1="165.00" x2="177.60" y2="288.00" stroke="#f07c80" stroke-width="1.0" />
<line x1="168.00" y1="288.00" x2="178.20" y2="288.00" stroke="#f07c80" stroke-width="0.8" />
<line x1="35.75" y1="165.40" x2="35.75" y2="277.20" stroke="#e6dc98" stroke-width="0.8" />
<line x1="36.55" y1="165.40" x2="36.55" y2="276.30" stroke="#8a8a8a" stroke-width="0.6" />
<line x1="36.20" y1="276.80" x2="176.30" y2="276.80" stroke="#e6dc98" stroke-width="0.8" />
<line x1="36.55" y1="276.00" x2="176.30" y2="276.00" stroke="#9a9a9a" stroke-width="0.6" />
<line x1="34.80" y1="176.40" x2="36.20" y2="176.40" stroke="#666" stroke-width="0.5" />
<text x="34.60" y="177.50" font-family="Liberation Sans" font-size="3.2" font-weight="normal" text-anchor="end" fill="#444" >60.00</text>
<line x1="34.80" y1="201.30" x2="36.20" y2="201.30" stroke="#666" stroke-width="0.5" />
<text x="34.60" y="202.40" font-family="Liberation Sans" font-size="3.2" font-weight="normal" text-anchor="end" fill="#444" >40.00</text>
<line x1="34.80" y1="226.20" x2="36.20" y2="226.20" stroke="#666" stroke-width="0.5" />
<text x="34.60" y="227.30" font-family="Liberation Sans" font-size="3.2" font-weight="normal" text-anchor="end" fill="#444" >20.00</text>
<line x1="34.80" y1="251.20" x2="36.20" y2="251.20" stroke="#666" stroke-width="0.5" />
<text x="34.60" y="252.30" font-family="Liberation Sans" font-size="3.2" font-weight="normal" text-anchor="end" fill="#444" >.00</text>
<line x1="34.80" y1="276.30" x2="36.20" y2="276.30" stroke="#666" stroke-width="0.5" />
<text x="34.60" y="277.40" font-family="Liberation Sans" font-size="3.2" font-weight="normal" text-anchor="end" fill="#444" >-20.00</text>
<line x1="59.30" y1="240.00" x2="59.30" y2="248.90" stroke="#222" stroke-width="0.8" />
<rect x="55.20" y="248.90" width="8.10" height="2.30" fill="#ec2a34" stroke="#8c1018" stroke-width="0.4" rx="0" />
<line x1="55.20" y1="250.60" x2="63.30" y2="250.60" stroke="#7a0a10" stroke-width="1.0" />
<rect x="86.10" y="249.80" width="8.70" height="1.40" fill="#b01018" stroke="none" stroke-width="0" rx="0" />
<line x1="90.40" y1="244.00" x2="90.40" y2="249.80" stroke="#222" stroke-width="0.8" />
<line x1="122.10" y1="226.40" x2="122.10" y2="241.20" stroke="#7a7a7a" stroke-width="0.9" />
<line x1="122.10" y1="250.80" x2="122.10" y2="251.20" stroke="#7a7a7a" stroke-width="0.9" />
<line x1="121.00" y1="226.40" x2="123.20" y2="226.40" stroke="#555" stroke-width="0.8" />
<line x1="121.00" y1="251.20" x2="123.20" y2="251.20" stroke="#555" stroke-width="0.8" />
<rect x="118.10" y="241.20" width="8.00" height="9.60" fill="#ec2a34" stroke="#8c1018" stroke-width="0.4" rx="0" />
<line x1="118.10" y1="248.20" x2="126.10" y2="248.20" stroke="#8c1018" stroke-width="1.1" />
<rect x="149.70" y="249.20" width="8.70" height="1.60" fill="#9a0c14" stroke="none" stroke-width="0" rx="0" />
<line x1="154.00" y1="243.50" x2="154.00" y2="249.20" stroke="#222" stroke-width="0.8" />
<circle cx="59.30" cy="234.30" r="0.7" fill="#222"/>
<circle cx="59.30" cy="236.50" r="0.7" fill="#222"/>
<circle cx="59.30" cy="240.50" r="0.7" fill="#222"/>
<circle cx="59.30" cy="242.00" r="0.7" fill="#222"/>
<circle cx="59.30" cy="243.50" r="0.7" fill="#222"/>
<circle cx="59.30" cy="245.50" r="0.7" fill="#222"/>
<circle cx="59.30" cy="247.00" r="0.7" fill="#222"/>
<text x="55.00" y="229.00" font-family="Liberation Sans" font-size="3.0" font-weight="normal" text-anchor="start" fill="#1a1a1a" >94</text>
<text x="60.50" y="229.00" font-family="Liberation Sans" font-size="3.0" font-weight="normal" text-anchor="start" fill="#1a1a1a" >14</text>
<text x="55.00" y="233.00" font-family="Liberation Sans" font-size="3.0" font-weight="normal" text-anchor="start" fill="#1a1a1a" >59</text>
<text x="60.50" y="233.00" font-family="Liberation Sans" font-size="3.0" font-weight="normal" text-anchor="start" fill="#1a1a1a" >40</text>
<text x="55.00" y="239.50" font-family="Liberation Sans" font-size="3.0" font-weight="normal" text-anchor="start" fill="#1a1a1a" >59</text>
<text x="61.50" y="238.60" font-family="Liberation Sans" font-size="3.0" font-weight="normal" text-anchor="start" fill="#1a1a1a" >45</text>
<text x="62.60" y="242.20" font-family="Liberation Sans" font-size="3.0" font-weight="normal" text-anchor="start" fill="#1a1a1a" >13</text>
<text x="55.00" y="244.50" font-family="Liberation Sans" font-size="3.0" font-weight="normal" text-anchor="start" fill="#1a1a1a" >73</text>
<circle cx="91.00" cy="211.40" r="0.7" fill="#222"/>
<circle cx="91.00" cy="225.00" r="0.7" fill="#222"/>
<circle cx="91.00" cy="233.50" r="0.7" fill="#222"/>
<circle cx="91.00" cy="238.50" r="0.7" fill="#222"/>
<circle cx="91.00" cy="240.00" r="0.7" fill="#222"/>
<circle cx="91.00" cy="243.00" r="0.7" fill="#222"/>
<circle cx="91.00" cy="245.00" r="0.7" fill="#222"/>
<circle cx="91.00" cy="247.00" r="0.7" fill="#222"/>
<circle cx="91.00" cy="248.50" r="0.7" fill="#222"/>
<text x="92.50" y="210.00" font-family="Liberation Sans" font-size="3.0" font-weight="normal" text-anchor="start" fill="#1a1a1a" >100</text>
<text x="92.50" y="223.50" font-family="Liberation Sans" font-size="3.0" font-weight="normal" text-anchor="start" fill="#1a1a1a" >147</text>
<text x="89.00" y="232.50" font-family="Liberation Sans" font-size="3.0" font-weight="normal" text-anchor="start" fill="#1a1a1a" >146 130</text>
<text x="85.00" y="237.00" font-family="Liberation Sans" font-size="3.0" font-weight="normal" text-anchor="start" fill="#1a1a1a" >128</text>
<text x="92.50" y="237.50" font-family="Liberation Sans" font-size="3.0" font-weight="normal" text-anchor="start" fill="#1a1a1a" >130</text>
<text x="85.00" y="240.80" font-family="Liberation Sans" font-size="3.0" font-weight="normal" text-anchor="start" fill="#1a1a1a" >132</text>
<text x="92.50" y="241.00" font-family="Liberation Sans" font-size="3.0" font-weight="normal" text-anchor="start" fill="#1a1a1a" >140</text>
<text x="85.00" y="244.50" font-family="Liberation Sans" font-size="3.0" font-weight="normal" text-anchor="start" fill="#1a1a1a" >210</text>
<text x="92.50" y="244.50" font-family="Liberation Sans" font-size="3.0" font-weight="normal" text-anchor="start" fill="#1a1a1a" >212</text>
<circle cx="122.20" cy="199.30" r="0.7" fill="#222"/>
<text x="124.00" y="196.70" font-family="Liberation Sans" font-size="3.0" font-weight="normal" text-anchor="start" fill="#222" >227</text>
<circle cx="122.10" cy="221.50" r="0.7" fill="#222"/>
<circle cx="122.10" cy="224.50" r="0.7" fill="#222"/>
<circle cx="122.10" cy="226.40" r="0.7" fill="#222"/>
<text x="124.50" y="220.00" font-family="Liberation Sans" font-size="3.0" font-weight="normal" text-anchor="start" fill="#1a1a1a" >249</text>
<text x="127.50" y="226.00" font-family="Liberation Sans" font-size="3.0" font-weight="normal" text-anchor="start" fill="#1a1a1a" >217</text>
<text x="123.80" y="229.00" font-family="Liberation Sans" font-size="3.0" font-weight="normal" text-anchor="start" fill="#1a1a1a" >263</text>
<circle cx="154.00" cy="223.00" r="0.7" fill="#222"/>
<circle cx="154.00" cy="226.00" r="0.7" fill="#222"/>
<circle cx="154.00" cy="232.00" r="0.7" fill="#222"/>
<circle cx="154.00" cy="236.00" r="0.7" fill="#222"/>
<circle cx="154.00" cy="238.50" r="0.7" fill="#222"/>
<circle cx="154.00" cy="240.50" r="0.7" fill="#222"/>
<circle cx="154.00" cy="242.50" r="0.7" fill="#222"/>
<circle cx="154.00" cy="244.50" r="0.7" fill="#222"/>
<circle cx="154.00" cy="246.50" r="0.7" fill="#222"/>
<circle cx="154.00" cy="248.00" r="0.7" fill="#222"/>
<text x="155.00" y="222.30" font-family="Liberation Sans" font-size="3.0" font-weight="normal" text-anchor="start" fill="#1a1a1a" >360</text>
<text x="155.00" y="227.00" font-family="Liberation Sans" font-size="3.0" font-weight="normal" text-anchor="start" fill="#1a1a1a" >384</text>
<text x="148.50" y="231.00" font-family="Liberation Sans" font-size="3.0" font-weight="normal" text-anchor="start" fill="#1a1a1a" >421 411</text>
<text x="155.00" y="234.00" font-family="Liberation Sans" font-size="3.0" font-weight="normal" text-anchor="start" fill="#1a1a1a" >408</text>
<text x="148.00" y="237.50" font-family="Liberation Sans" font-size="3.0" font-weight="normal" text-anchor="start" fill="#1a1a1a" >402</text>
<text x="143.50" y="239.50" font-family="Liberation Sans" font-size="3.0" font-weight="normal" text-anchor="start" fill="#1a1a1a" >406 375</text>
<text x="157.00" y="238.50" font-family="Liberation Sans" font-size="3.0" font-weight="normal" text-anchor="start" fill="#1a1a1a" >417</text>
<text x="157.00" y="242.00" font-family="Liberation Sans" font-size="3.0" font-weight="normal" text-anchor="start" fill="#1a1a1a" >414</text>
<text x="146.00" y="245.00" font-family="Liberation Sans" font-size="3.0" font-weight="normal" text-anchor="start" fill="#1a1a1a" >404 313</text>
<text x="157.00" y="246.00" font-family="Liberation Sans" font-size="3.0" font-weight="normal" text-anchor="start" fill="#1a1a1a" >320</text>
<path d="M58.60,198.00 L58.60,193.10 L90.20,193.10 L90.20,198.00" stroke="#f04f55" stroke-width="0.85" fill="none" />
<line x1="74.50" y1="193.10" x2="74.50" y2="188.00" stroke="#f04f55" stroke-width="0.85" />
<text x="69.50" y="190.40" font-family="Liberation Sans" font-size="4.0" font-weight="bold" text-anchor="middle" fill="#2a2a2a" >0.46</text>
<path d="M91.50,178.70 L91.50,174.00 L154.60,174.00 L154.60,178.70" stroke="#f04f55" stroke-width="0.85" fill="none" />
<line x1="123.10" y1="174.00" x2="123.10" y2="169.70" stroke="#f04f55" stroke-width="0.85" />
<text x="129.80" y="171.70" font-family="Liberation Sans" font-size="4.0" font-weight="bold" text-anchor="middle" fill="#2a2a2a" >0.05</text>
<path d="M122.70,194.60 L122.70,189.40 L154.60,189.40 L154.60,194.60" stroke="#f04f55" stroke-width="0.85" fill="none" />
<line x1="139.00" y1="189.40" x2="139.00" y2="184.30" stroke="#f04f55" stroke-width="0.85" />
<text x="131.00" y="188.50" font-family="Liberation Sans" font-size="4.0" font-weight="bold" text-anchor="middle" fill="#2a2a2a" >0.05</text>
<text x="24.70" y="259.80" font-family="Liberation Serif" font-size="10.0" font-weight="bold" text-anchor="start" fill="#1a1a1a" textLength="41.10" lengthAdjust="spacingAndGlyphs" transform="rotate(-90 24.70 259.80)" >D-Dimer</text>
<text x="24.70" y="217.40" font-family="Liberation Serif" font-size="10.0" font-weight="bold" text-anchor="start" fill="#1a1a1a" textLength="34.30" lengthAdjust="spacingAndGlyphs" transform="rotate(-90 24.70 217.40)" >(µg/ml)</text>
<text x="53.60" y="286.90" font-family="Liberation Serif" font-size="7.6" font-weight="bold" text-anchor="middle" fill="#1a1a1a" textLength="25.40" lengthAdjust="spacingAndGlyphs" stroke="#1a1a1a" stroke-width="0.22">PRE-BST</text>
<text x="89.30" y="287.70" font-family="Liberation Serif" font-size="7.6" font-weight="bold" text-anchor="middle" fill="#1a1a1a" textLength="31.40" lengthAdjust="spacingAndGlyphs" stroke="#1a1a1a" stroke-width="0.22">POST-BST</text>
<text x="126.85" y="287.50" font-family="Liberation Serif" font-size="7.6" font-weight="bold" text-anchor="middle" fill="#1a1a1a" textLength="27.30" lengthAdjust="spacingAndGlyphs" stroke="#1a1a1a" stroke-width="0.22">PRE-PLA</text>
<text x="158.20" y="287.30" font-family="Liberation Serif" font-size="7.6" font-weight="bold" text-anchor="middle" fill="#1a1a1a" textLength="31.60" lengthAdjust="spacingAndGlyphs" stroke="#1a1a1a" stroke-width="0.22">POST-PLA</text>
<text x="97.85" y="310.30" font-family="Liberation Serif" font-size="10.2" font-weight="bold" text-anchor="middle" fill="#000" >D</text>
<rect x="184.30" y="154.80" width="175.20" height="156.60" fill="none" stroke="#f79646" stroke-width="1.1" rx="1.0" />
<rect x="207.30" y="168.50" width="145.50" height="106.30" fill="#efefef" stroke="none" stroke-width="0" rx="0" />
<line x1="206.85" y1="168.60" x2="206.85" y2="275.80" stroke="#e6dc98" stroke-width="0.8" />
<line x1="207.65" y1="168.60" x2="207.65" y2="274.90" stroke="#8a8a8a" stroke-width="0.6" />
<line x1="207.30" y1="275.40" x2="352.80" y2="275.40" stroke="#e6dc98" stroke-width="0.8" />
<line x1="207.65" y1="274.60" x2="352.80" y2="274.60" stroke="#9a9a9a" stroke-width="0.6" />
<line x1="205.90" y1="172.70" x2="207.30" y2="172.70" stroke="#666" stroke-width="0.5" />
<text x="205.70" y="173.80" font-family="Liberation Sans" font-size="3.2" font-weight="normal" text-anchor="end" fill="#444" >60.00</text>
<line x1="205.90" y1="189.70" x2="207.30" y2="189.70" stroke="#666" stroke-width="0.5" />
<text x="205.70" y="190.80" font-family="Liberation Sans" font-size="3.2" font-weight="normal" text-anchor="end" fill="#444" >50.00</text>
<line x1="205.90" y1="206.80" x2="207.30" y2="206.80" stroke="#666" stroke-width="0.5" />
<text x="205.70" y="207.90" font-family="Liberation Sans" font-size="3.2" font-weight="normal" text-anchor="end" fill="#444" >40.00</text>
<line x1="205.90" y1="223.90" x2="207.30" y2="223.90" stroke="#666" stroke-width="0.5" />
<text x="205.70" y="225.00" font-family="Liberation Sans" font-size="3.2" font-weight="normal" text-anchor="end" fill="#444" >30.00</text>
<line x1="205.90" y1="240.90" x2="207.30" y2="240.90" stroke="#666" stroke-width="0.5" />
<text x="205.70" y="242.00" font-family="Liberation Sans" font-size="3.2" font-weight="normal" text-anchor="end" fill="#444" >20.00</text>
<line x1="205.90" y1="258.00" x2="207.30" y2="258.00" stroke="#666" stroke-width="0.5" />
<text x="205.70" y="259.10" font-family="Liberation Sans" font-size="3.2" font-weight="normal" text-anchor="end" fill="#444" >10.00</text>
<line x1="205.90" y1="275.00" x2="207.30" y2="275.00" stroke="#666" stroke-width="0.5" />
<text x="205.70" y="276.10" font-family="Liberation Sans" font-size="3.2" font-weight="normal" text-anchor="end" fill="#444" >.00</text>
<line x1="231.25" y1="240.70" x2="231.25" y2="259.80" stroke="#7a7a7a" stroke-width="0.9" />
<line x1="231.25" y1="273.50" x2="231.25" y2="275.00" stroke="#7a7a7a" stroke-width="0.9" />
<line x1="230.15" y1="240.70" x2="232.35" y2="240.70" stroke="#555" stroke-width="0.8" />
<line x1="230.15" y1="275.00" x2="232.35" y2="275.00" stroke="#555" stroke-width="0.8" />
<rect x="227.00" y="259.80" width="8.50" height="13.70" fill="#c53a7d" stroke="#6e1540" stroke-width="0.4" rx="0" />
<line x1="227.00" y1="266.80" x2="235.50" y2="266.80" stroke="#6e1540" stroke-width="1.1" />
<line x1="263.75" y1="259.90" x2="263.75" y2="266.50" stroke="#7a7a7a" stroke-width="0.9" />
<line x1="263.75" y1="273.50" x2="263.75" y2="275.00" stroke="#7a7a7a" stroke-width="0.9" />
<line x1="262.65" y1="259.90" x2="264.85" y2="259.90" stroke="#555" stroke-width="0.8" />
<line x1="262.65" y1="275.00" x2="264.85" y2="275.00" stroke="#555" stroke-width="0.8" />
<rect x="259.60" y="266.50" width="8.30" height="7.00" fill="#c53a7d" stroke="#6e1540" stroke-width="0.4" rx="0" />
<line x1="259.60" y1="270.60" x2="267.90" y2="270.60" stroke="#6e1540" stroke-width="1.1" />
<line x1="296.35" y1="212.40" x2="296.35" y2="241.40" stroke="#7a7a7a" stroke-width="0.9" />
<line x1="296.35" y1="268.40" x2="296.35" y2="274.50" stroke="#7a7a7a" stroke-width="0.9" />
<line x1="295.25" y1="212.40" x2="297.45" y2="212.40" stroke="#555" stroke-width="0.8" />
<line x1="295.25" y1="274.50" x2="297.45" y2="274.50" stroke="#555" stroke-width="0.8" />
<rect x="292.00" y="241.40" width="8.70" height="27.00" fill="#ec2a34" stroke="#8c1018" stroke-width="0.4" rx="0" />
<line x1="292.00" y1="258.80" x2="300.70" y2="258.80" stroke="#8c1018" stroke-width="1.1" />
<line x1="329.25" y1="249.00" x2="329.25" y2="263.00" stroke="#7a7a7a" stroke-width="0.9" />
<line x1="329.25" y1="272.40" x2="329.25" y2="275.00" stroke="#7a7a7a" stroke-width="0.9" />
<line x1="328.15" y1="249.00" x2="330.35" y2="249.00" stroke="#555" stroke-width="0.8" />
<line x1="328.15" y1="275.00" x2="330.35" y2="275.00" stroke="#555" stroke-width="0.8" />
<rect x="325.10" y="263.00" width="8.30" height="9.40" fill="#ec2a34" stroke="#8c1018" stroke-width="0.4" rx="0" />
<line x1="325.10" y1="269.30" x2="333.40" y2="269.30" stroke="#8c1018" stroke-width="1.1" />
<circle cx="231.30" cy="226.00" r="0.7" fill="#555"/>
<circle cx="231.30" cy="229.00" r="0.7" fill="#555"/>
<circle cx="231.30" cy="232.00" r="0.7" fill="#555"/>
<circle cx="231.30" cy="234.50" r="0.7" fill="#555"/>
<circle cx="231.30" cy="237.50" r="0.7" fill="#555"/>
<text x="227.00" y="222.00" font-family="Liberation Sans" font-size="3.0" font-weight="normal" text-anchor="start" fill="#1a1a1a" >94</text>
<text x="232.50" y="222.00" font-family="Liberation Sans" font-size="3.0" font-weight="normal" text-anchor="start" fill="#1a1a1a" >14</text>
<text x="232.50" y="225.50" font-family="Liberation Sans" font-size="3.0" font-weight="normal" text-anchor="start" fill="#1a1a1a" >75</text>
<text x="232.50" y="228.50" font-family="Liberation Sans" font-size="3.0" font-weight="normal" text-anchor="start" fill="#1a1a1a" >59</text>
<text x="232.50" y="232.00" font-family="Liberation Sans" font-size="3.0" font-weight="normal" text-anchor="start" fill="#1a1a1a" >34</text>
<text x="232.50" y="236.50" font-family="Liberation Sans" font-size="3.0" font-weight="normal" text-anchor="start" fill="#1a1a1a" >40</text>
<circle cx="263.60" cy="199.30" r="0.7" fill="#333"/>
<text x="265.30" y="197.00" font-family="Liberation Sans" font-size="3.0" font-weight="normal" text-anchor="start" fill="#222" >100</text>
<circle cx="263.60" cy="212.40" r="0.7" fill="#333"/>
<text x="265.30" y="210.00" font-family="Liberation Sans" font-size="3.0" font-weight="normal" text-anchor="start" fill="#222" >147</text>
<circle cx="263.60" cy="230.00" r="0.7" fill="#444"/>
<circle cx="263.60" cy="236.00" r="0.7" fill="#444"/>
<circle cx="263.60" cy="240.50" r="0.7" fill="#444"/>
<circle cx="263.60" cy="243.00" r="0.7" fill="#444"/>
<circle cx="263.60" cy="246.00" r="0.7" fill="#444"/>
<circle cx="263.60" cy="249.00" r="0.7" fill="#444"/>
<circle cx="263.60" cy="252.00" r="0.7" fill="#444"/>
<circle cx="263.60" cy="254.30" r="0.7" fill="#444"/>
<text x="265.50" y="229.50" font-family="Liberation Sans" font-size="3.0" font-weight="normal" text-anchor="start" fill="#1a1a1a" >130</text>
<text x="265.50" y="234.00" font-family="Liberation Sans" font-size="3.0" font-weight="normal" text-anchor="start" fill="#1a1a1a" >140</text>
<text x="258.00" y="240.00" font-family="Liberation Sans" font-size="3.0" font-weight="normal" text-anchor="start" fill="#1a1a1a" >136</text>
<text x="266.00" y="240.50" font-family="Liberation Sans" font-size="3.0" font-weight="normal" text-anchor="start" fill="#1a1a1a" >128</text>
<text x="258.00" y="243.00" font-family="Liberation Sans" font-size="3.0" font-weight="normal" text-anchor="start" fill="#1a1a1a" >136</text>
<text x="265.50" y="244.00" font-family="Liberation Sans" font-size="3.0" font-weight="normal" text-anchor="start" fill="#1a1a1a" >141</text>
<text x="258.00" y="246.50" font-family="Liberation Sans" font-size="3.0" font-weight="normal" text-anchor="start" fill="#1a1a1a" >212</text>
<text x="265.50" y="247.00" font-family="Liberation Sans" font-size="3.0" font-weight="normal" text-anchor="start" fill="#1a1a1a" >210</text>
<text x="258.00" y="250.00" font-family="Liberation Sans" font-size="3.0" font-weight="normal" text-anchor="start" fill="#1a1a1a" >211</text>
<text x="265.50" y="251.00" font-family="Liberation Sans" font-size="3.0" font-weight="normal" text-anchor="start" fill="#1a1a1a" >208</text>
<circle cx="296.30" cy="186.90" r="1.0" fill="#8a0a10"/>
<text x="298.30" y="184.40" font-family="Liberation Sans" font-size="3.0" font-weight="normal" text-anchor="start" fill="#222" >227</text>
<circle cx="328.80" cy="216.30" r="0.6" fill="#e03040"/>
<text x="330.50" y="215.30" font-family="Liberation Sans" font-size="3.0" font-weight="normal" text-anchor="start" fill="#222" >360</text>
<circle cx="328.80" cy="224.00" r="0.6" fill="#e03040"/>
<text x="330.50" y="223.00" font-family="Liberation Sans" font-size="3.0" font-weight="normal" text-anchor="start" fill="#222" >384</text>
<circle cx="328.80" cy="231.00" r="0.7" fill="#a01020"/>
<circle cx="328.80" cy="234.00" r="0.7" fill="#a01020"/>
<circle cx="328.80" cy="236.50" r="0.7" fill="#a01020"/>
<circle cx="328.80" cy="238.50" r="0.7" fill="#a01020"/>
<circle cx="328.80" cy="240.50" r="0.7" fill="#a01020"/>
<circle cx="328.80" cy="243.50" r="0.7" fill="#a01020"/>
<text x="330.50" y="230.00" font-family="Liberation Sans" font-size="3.0" font-weight="normal" text-anchor="start" fill="#1a1a1a" >421</text>
<text x="322.00" y="233.00" font-family="Liberation Sans" font-size="3.0" font-weight="normal" text-anchor="start" fill="#1a1a1a" >408</text>
<text x="330.50" y="233.50" font-family="Liberation Sans" font-size="3.0" font-weight="normal" text-anchor="start" fill="#1a1a1a" >411</text>
<text x="330.50" y="236.50" font-family="Liberation Sans" font-size="3.0" font-weight="normal" text-anchor="start" fill="#1a1a1a" >408</text>
<text x="330.50" y="239.50" font-family="Liberation Sans" font-size="3.0" font-weight="normal" text-anchor="start" fill="#1a1a1a" >413</text>
<text x="322.00" y="243.00" font-family="Liberation Sans" font-size="3.0" font-weight="normal" text-anchor="start" fill="#1a1a1a" >375</text>
<text x="330.00" y="243.00" font-family="Liberation Sans" font-size="3.0" font-weight="normal" text-anchor="start" fill="#1a1a1a" >417</text>
<text x="195.10" y="268.80" font-family="Liberation Serif" font-size="8.6" font-weight="bold" text-anchor="start" fill="#1a1a1a" textLength="34.30" lengthAdjust="spacingAndGlyphs" transform="rotate(-90 195.10 268.80)" >Hs-CRP</text>
<text x="195.10" y="230.70" font-family="Liberation Serif" font-size="8.6" font-weight="bold" text-anchor="start" fill="#1a1a1a" textLength="36.00" lengthAdjust="spacingAndGlyphs" transform="rotate(-90 195.10 230.70)" >(mg/ml)</text>
<text x="224.35" y="286.40" font-family="Liberation Serif" font-size="7.6" font-weight="bold" text-anchor="middle" fill="#1a1a1a" textLength="26.70" lengthAdjust="spacingAndGlyphs" stroke="#1a1a1a" stroke-width="0.22">PRE-BST</text>
<text x="261.60" y="286.90" font-family="Liberation Serif" font-size="7.6" font-weight="bold" text-anchor="middle" fill="#1a1a1a" textLength="32.50" lengthAdjust="spacingAndGlyphs" stroke="#1a1a1a" stroke-width="0.22">POST-BST</text>
<text x="297.25" y="285.60" font-family="Liberation Serif" font-size="7.6" font-weight="bold" text-anchor="middle" fill="#1a1a1a" textLength="27.30" lengthAdjust="spacingAndGlyphs" stroke="#1a1a1a" stroke-width="0.22">PRE-PLA</text>
<text x="332.00" y="286.90" font-family="Liberation Serif" font-size="7.6" font-weight="bold" text-anchor="middle" fill="#1a1a1a" textLength="32.00" lengthAdjust="spacingAndGlyphs" stroke="#1a1a1a" stroke-width="0.22">POST-PLA</text>
<text x="280.20" y="307.30" font-family="Liberation Serif" font-size="10.2" font-weight="bold" text-anchor="middle" fill="#000" >E</text>
<rect x="366.00" y="154.80" width="177.40" height="156.40" fill="none" stroke="#f79646" stroke-width="1.1" rx="1.0" />
<line x1="372.00" y1="162.80" x2="537.00" y2="162.80" stroke="#f07c80" stroke-width="1.0" />
<rect x="386.50" y="169.10" width="114.50" height="103.70" fill="#f0f0f0" stroke="#959595" stroke-width="0.65" rx="0" />
<text x="456.90" y="167.10" font-family="Liberation Sans" font-size="4.1" font-weight="bold" text-anchor="middle" fill="#2a2a2a" textLength="36.20" lengthAdjust="spacingAndGlyphs" >Hazard Function</text>
<line x1="385.00" y1="174.40" x2="386.50" y2="174.40" stroke="#666" stroke-width="0.5" />
<text x="384.60" y="175.50" font-family="Liberation Sans" font-size="3.1" font-weight="normal" text-anchor="end" fill="#444" >1.2</text>
<line x1="385.00" y1="190.10" x2="386.50" y2="190.10" stroke="#666" stroke-width="0.5" />
<text x="384.60" y="191.20" font-family="Liberation Sans" font-size="3.1" font-weight="normal" text-anchor="end" fill="#444" >1.0</text>
<line x1="385.00" y1="205.80" x2="386.50" y2="205.80" stroke="#666" stroke-width="0.5" />
<text x="384.60" y="206.90" font-family="Liberation Sans" font-size="3.1" font-weight="normal" text-anchor="end" fill="#444" >0.8</text>
<line x1="385.00" y1="221.50" x2="386.50" y2="221.50" stroke="#666" stroke-width="0.5" />
<text x="384.60" y="222.60" font-family="Liberation Sans" font-size="3.1" font-weight="normal" text-anchor="end" fill="#444" >0.6</text>
<line x1="385.00" y1="237.20" x2="386.50" y2="237.20" stroke="#666" stroke-width="0.5" />
<text x="384.60" y="238.30" font-family="Liberation Sans" font-size="3.1" font-weight="normal" text-anchor="end" fill="#444" >0.4</text>
<line x1="385.00" y1="252.90" x2="386.50" y2="252.90" stroke="#666" stroke-width="0.5" />
<text x="384.60" y="254.00" font-family="Liberation Sans" font-size="3.1" font-weight="normal" text-anchor="end" fill="#444" >0.2</text>
<line x1="385.00" y1="268.60" x2="386.50" y2="268.60" stroke="#666" stroke-width="0.5" />
<text x="384.60" y="269.70" font-family="Liberation Sans" font-size="3.1" font-weight="normal" text-anchor="end" fill="#444" >0.0</text>
<line x1="392.00" y1="272.80" x2="392.00" y2="274.30" stroke="#666" stroke-width="0.5" />
<text x="392.00" y="277.80" font-family="Liberation Sans" font-size="3.1" font-weight="normal" text-anchor="middle" fill="#444" >.00</text>
<line x1="412.65" y1="272.80" x2="412.65" y2="274.30" stroke="#666" stroke-width="0.5" />
<text x="412.65" y="277.80" font-family="Liberation Sans" font-size="3.1" font-weight="normal" text-anchor="middle" fill="#444" >10.00</text>
<line x1="433.30" y1="272.80" x2="433.30" y2="274.30" stroke="#666" stroke-width="0.5" />
<text x="433.30" y="277.80" font-family="Liberation Sans" font-size="3.1" font-weight="normal" text-anchor="middle" fill="#444" >20.00</text>
<line x1="453.95" y1="272.80" x2="453.95" y2="274.30" stroke="#666" stroke-width="0.5" />
<text x="453.95" y="277.80" font-family="Liberation Sans" font-size="3.1" font-weight="normal" text-anchor="middle" fill="#444" >30.00</text>
<line x1="474.60" y1="272.80" x2="474.60" y2="274.30" stroke="#666" stroke-width="0.5" />
<text x="474.60" y="277.80" font-family="Liberation Sans" font-size="3.1" font-weight="normal" text-anchor="middle" fill="#444" >40.00</text>
<line x1="495.25" y1="272.80" x2="495.25" y2="274.30" stroke="#666" stroke-width="0.5" />
<text x="495.25" y="277.80" font-family="Liberation Sans" font-size="3.1" font-weight="normal" text-anchor="middle" fill="#444" >50.00</text>
<path d="M392.00,268.50 L411.70,268.50 L411.70,266.80 L420.20,266.80 L420.20,265.50 L421.80,265.50 L421.80,261.60 L426.50,261.60 L426.50,258.00 L432.70,258.00 L432.70,255.40 L435.00,255.40 L435.00,252.50 L438.20,252.50 L438.20,249.90 L440.20,249.90 L440.20,245.20 L444.40,245.20 L444.40,233.10 L449.50,233.10 L449.50,224.90 L456.40,224.90 L456.40,214.00 L466.70,214.00 L466.70,202.40 L473.30,202.40" stroke="#72bccc" stroke-width="0.8" fill="none" />
<path d="M392.00,268.50 L411.70,268.50 L411.70,267.20 L418.70,267.20 L418.70,265.50 L421.00,265.50 L421.00,263.50 L423.40,263.50 L423.40,261.60 L432.00,261.60 L432.00,256.50 L434.50,256.50 L434.50,254.00 L436.60,254.00 L436.60,252.00 L438.90,252.00 L438.90,249.00 L441.30,249.00 L441.30,246.50 L444.40,246.50 L444.40,243.50 L446.00,243.50 L446.00,239.80 L446.70,239.80 L446.70,235.90 L455.00,235.90 L455.00,231.40 L456.40,231.40 L456.40,229.50 L458.30,229.50 L458.30,226.70 L460.70,226.70 L460.70,219.80 L468.20,219.80 L468.20,187.10 L475.70,187.10" stroke="#f07a7a" stroke-width="0.8" fill="none" />
<line x1="474.80" y1="187.10" x2="476.60" y2="187.10" stroke="#5a5ac8" stroke-width="0.5" />
<line x1="475.70" y1="186.20" x2="475.70" y2="188.00" stroke="#5a5ac8" stroke-width="0.5" />
<line x1="465.80" y1="209.50" x2="467.60" y2="209.50" stroke="#5a5ac8" stroke-width="0.5" />
<line x1="466.70" y1="208.60" x2="466.70" y2="210.40" stroke="#5a5ac8" stroke-width="0.5" />
<line x1="460.60" y1="219.80" x2="462.40" y2="219.80" stroke="#5a5ac8" stroke-width="0.5" />
<line x1="461.50" y1="218.90" x2="461.50" y2="220.70" stroke="#5a5ac8" stroke-width="0.5" />
<line x1="462.60" y1="219.80" x2="464.40" y2="219.80" stroke="#5a5ac8" stroke-width="0.5" />
<line x1="463.50" y1="218.90" x2="463.50" y2="220.70" stroke="#5a5ac8" stroke-width="0.5" />
<line x1="464.90" y1="219.80" x2="466.70" y2="219.80" stroke="#5a5ac8" stroke-width="0.5" />
<line x1="465.80" y1="218.90" x2="465.80" y2="220.70" stroke="#5a5ac8" stroke-width="0.5" />
<line x1="458.40" y1="226.70" x2="460.20" y2="226.70" stroke="#5a5ac8" stroke-width="0.5" />
<line x1="459.30" y1="225.80" x2="459.30" y2="227.60" stroke="#5a5ac8" stroke-width="0.5" />
<line x1="455.50" y1="231.40" x2="457.30" y2="231.40" stroke="#5a5ac8" stroke-width="0.5" />
<line x1="456.40" y1="230.50" x2="456.40" y2="232.30" stroke="#5a5ac8" stroke-width="0.5" />
<line x1="447.10" y1="235.80" x2="448.90" y2="235.80" stroke="#5a5ac8" stroke-width="0.5" />
<line x1="448.00" y1="234.90" x2="448.00" y2="236.70" stroke="#5a5ac8" stroke-width="0.5" />
<line x1="449.60" y1="235.80" x2="451.40" y2="235.80" stroke="#5a5ac8" stroke-width="0.5" />
<line x1="450.50" y1="234.90" x2="450.50" y2="236.70" stroke="#5a5ac8" stroke-width="0.5" />
<line x1="452.30" y1="235.80" x2="454.10" y2="235.80" stroke="#5a5ac8" stroke-width="0.5" />
<line x1="453.20" y1="234.90" x2="453.20" y2="236.70" stroke="#5a5ac8" stroke-width="0.5" />
<line x1="444.30" y1="242.10" x2="446.10" y2="242.10" stroke="#5a5ac8" stroke-width="0.5" />
<line x1="445.20" y1="241.20" x2="445.20" y2="243.00" stroke="#5a5ac8" stroke-width="0.5" />
<line x1="441.90" y1="245.50" x2="443.70" y2="245.50" stroke="#5a5ac8" stroke-width="0.5" />
<line x1="442.80" y1="244.60" x2="442.80" y2="246.40" stroke="#5a5ac8" stroke-width="0.5" />
<line x1="439.60" y1="248.40" x2="441.40" y2="248.40" stroke="#5a5ac8" stroke-width="0.5" />
<line x1="440.50" y1="247.50" x2="440.50" y2="249.30" stroke="#5a5ac8" stroke-width="0.5" />
<line x1="436.50" y1="252.30" x2="438.30" y2="252.30" stroke="#5a5ac8" stroke-width="0.5" />
<line x1="437.40" y1="251.40" x2="437.40" y2="253.20" stroke="#5a5ac8" stroke-width="0.5" />
<line x1="429.50" y1="261.60" x2="431.30" y2="261.60" stroke="#5a5ac8" stroke-width="0.5" />
<line x1="430.40" y1="260.70" x2="430.40" y2="262.50" stroke="#5a5ac8" stroke-width="0.5" />
<line x1="419.30" y1="265.80" x2="421.10" y2="265.80" stroke="#5a5ac8" stroke-width="0.5" />
<line x1="420.20" y1="264.90" x2="420.20" y2="266.70" stroke="#5a5ac8" stroke-width="0.5" />
<line x1="465.80" y1="202.40" x2="467.60" y2="202.40" stroke="#4aac4a" stroke-width="0.5" />
<line x1="466.70" y1="201.50" x2="466.70" y2="203.30" stroke="#4aac4a" stroke-width="0.5" />
<line x1="472.40" y1="202.40" x2="474.20" y2="202.40" stroke="#4aac4a" stroke-width="0.5" />
<line x1="473.30" y1="201.50" x2="473.30" y2="203.30" stroke="#4aac4a" stroke-width="0.5" />
<line x1="454.60" y1="224.90" x2="456.40" y2="224.90" stroke="#4aac4a" stroke-width="0.5" />
<line x1="455.50" y1="224.00" x2="455.50" y2="225.80" stroke="#4aac4a" stroke-width="0.5" />
<line x1="443.50" y1="233.10" x2="445.30" y2="233.10" stroke="#4aac4a" stroke-width="0.5" />
<line x1="444.40" y1="232.20" x2="444.40" y2="234.00" stroke="#4aac4a" stroke-width="0.5" />
<line x1="439.30" y1="245.20" x2="441.10" y2="245.20" stroke="#4aac4a" stroke-width="0.5" />
<line x1="440.20" y1="244.30" x2="440.20" y2="246.10" stroke="#4aac4a" stroke-width="0.5" />
<line x1="437.30" y1="249.90" x2="439.10" y2="249.90" stroke="#4aac4a" stroke-width="0.5" />
<line x1="438.20" y1="249.00" x2="438.20" y2="250.80" stroke="#4aac4a" stroke-width="0.5" />
<line x1="427.10" y1="258.00" x2="428.90" y2="258.00" stroke="#4aac4a" stroke-width="0.5" />
<line x1="428.00" y1="257.10" x2="428.00" y2="258.90" stroke="#4aac4a" stroke-width="0.5" />
<line x1="429.50" y1="258.00" x2="431.30" y2="258.00" stroke="#4aac4a" stroke-width="0.5" />
<line x1="430.40" y1="257.10" x2="430.40" y2="258.90" stroke="#4aac4a" stroke-width="0.5" />
<line x1="422.50" y1="261.30" x2="424.30" y2="261.30" stroke="#4aac4a" stroke-width="0.5" />
<line x1="423.40" y1="260.40" x2="423.40" y2="262.20" stroke="#4aac4a" stroke-width="0.5" />
<line x1="417.80" y1="265.80" x2="419.60" y2="265.80" stroke="#4aac4a" stroke-width="0.5" />
<line x1="418.70" y1="264.90" x2="418.70" y2="266.70" stroke="#4aac4a" stroke-width="0.5" />
<line x1="412.30" y1="266.80" x2="414.10" y2="266.80" stroke="#4aac4a" stroke-width="0.5" />
<line x1="413.20" y1="265.90" x2="413.20" y2="267.70" stroke="#4aac4a" stroke-width="0.5" />
<line x1="414.10" y1="266.80" x2="415.90" y2="266.80" stroke="#4aac4a" stroke-width="0.5" />
<line x1="415.00" y1="265.90" x2="415.00" y2="267.70" stroke="#4aac4a" stroke-width="0.5" />
<line x1="406.10" y1="268.40" x2="407.90" y2="268.40" stroke="#4aac4a" stroke-width="0.5" />
<line x1="407.00" y1="267.50" x2="407.00" y2="269.30" stroke="#4aac4a" stroke-width="0.5" />
<line x1="402.10" y1="268.40" x2="403.90" y2="268.40" stroke="#4aac4a" stroke-width="0.5" />
<line x1="403.00" y1="267.50" x2="403.00" y2="269.30" stroke="#4aac4a" stroke-width="0.5" />
<line x1="399.90" y1="268.40" x2="401.70" y2="268.40" stroke="#4aac4a" stroke-width="0.5" />
<line x1="400.80" y1="267.50" x2="400.80" y2="269.30" stroke="#4aac4a" stroke-width="0.5" />
<line x1="395.10" y1="268.40" x2="396.90" y2="268.40" stroke="#4aac4a" stroke-width="0.5" />
<line x1="396.00" y1="267.50" x2="396.00" y2="269.30" stroke="#4aac4a" stroke-width="0.5" />
<text x="508.50" y="174.20" font-family="Liberation Sans" font-size="3.4" font-weight="normal" text-anchor="start" fill="#444" textLength="12.90" lengthAdjust="spacingAndGlyphs" >GROUP</text>
<line x1="502.50" y1="177.60" x2="507.50" y2="177.60" stroke="#f07070" stroke-width="0.7" />
<text x="508.50" y="178.60" font-family="Liberation Sans" font-size="2.7" font-weight="normal" text-anchor="start" fill="#444" >CP</text>
<line x1="502.50" y1="181.10" x2="507.50" y2="181.10" stroke="#6ab8c8" stroke-width="0.7" />
<text x="508.50" y="182.10" font-family="Liberation Sans" font-size="2.7" font-weight="normal" text-anchor="start" fill="#444" >BST</text>
<line x1="502.50" y1="184.60" x2="507.50" y2="184.60" stroke="#5050c0" stroke-width="0.7" />
<line x1="505.00" y1="183.60" x2="505.00" y2="185.60" stroke="#5050c0" stroke-width="0.5" />
<text x="508.50" y="185.60" font-family="Liberation Sans" font-size="2.7" font-weight="normal" text-anchor="start" fill="#444" >1.00-censored</text>
<line x1="502.50" y1="188.10" x2="507.50" y2="188.10" stroke="#40a040" stroke-width="0.7" />
<line x1="505.00" y1="187.10" x2="505.00" y2="189.10" stroke="#40a040" stroke-width="0.5" />
<text x="508.50" y="189.10" font-family="Liberation Sans" font-size="2.7" font-weight="normal" text-anchor="start" fill="#444" >2.00-censored</text>
<text x="379.10" y="258.40" font-family="Liberation Serif" font-size="10.4" font-weight="bold" text-anchor="start" fill="#1a1a1a" textLength="57.80" lengthAdjust="spacingAndGlyphs" transform="rotate(-90 379.10 258.40)" >Cum Hazard</text>
<text x="436.40" y="293.30" font-family="Liberation Serif" font-size="12" font-weight="normal" text-anchor="middle" fill="#222" textLength="51.70" lengthAdjust="spacingAndGlyphs" >Hospital Stay</text>
<line x1="372.50" y1="287.60" x2="375.80" y2="287.60" stroke="#f07c80" stroke-width="0.7" />
<text x="445.50" y="307.20" font-family="Liberation Serif" font-size="10.2" font-weight="bold" text-anchor="middle" fill="#000" >F</text>
</svg>
</body></html>
